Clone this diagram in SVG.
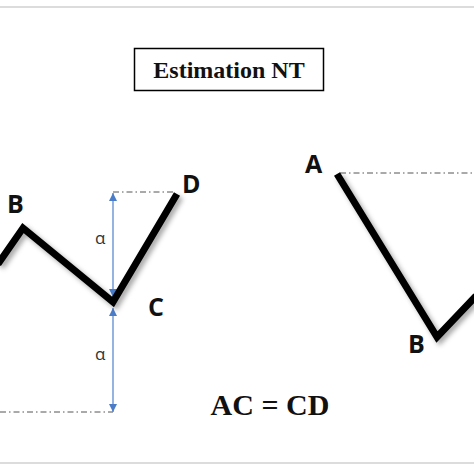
<svg xmlns="http://www.w3.org/2000/svg" width="474" height="474" viewBox="0 0 474 474">
<defs>
<style>
.frame{stroke:#dcdcdc;stroke-width:2;fill:none}
.zig{stroke:#000;stroke-width:7;fill:none;stroke-linejoin:miter;stroke-miterlimit:10;filter:url(#sh)}
.dim{stroke:#5b8bd0;stroke-width:1.3;fill:none}
.ref{stroke:#555;stroke-width:1;fill:none;stroke-dasharray:6 3 1.5 3}
.lbl{font-family:"Open Sans","Liberation Sans",sans-serif;font-weight:bold;font-size:25px;fill:#111}
.alpha{font-family:"Open Sans","Liberation Sans",sans-serif;font-size:17px;fill:#333}
.serif{font-family:"Liberation Serif","Times New Roman",serif;font-weight:bold;fill:#111}
</style>
<filter id="sh" x="-20%" y="-20%" width="140%" height="140%">
<feDropShadow dx="3" dy="3" stdDeviation="2.5" flood-color="#000" flood-opacity="0.35"/>
</filter>
<marker id="ah" viewBox="0 0 10 10" refX="10" refY="5" markerWidth="8" markerHeight="9" markerUnits="userSpaceOnUse" orient="auto-start-reverse">
<path d="M0,0 L10,5 L0,10 Z" fill="#4a7cc8"/>
</marker>
</defs>
<line class="frame" x1="0" y1="7" x2="474" y2="7"/>
<line class="frame" x1="0" y1="463" x2="474" y2="463"/>
<g id="title">
<rect x="134.5" y="48.5" width="189" height="42" fill="#fff" stroke="#000" stroke-width="1.5"/>
<text class="serif" x="229" y="78" font-size="24" text-anchor="middle">Estimation NT</text>
</g>
<g id="connectors">
<line class="ref" x1="113" y1="192" x2="174" y2="192"/>
<line class="ref" x1="0" y1="412" x2="113" y2="412"/>
<line class="ref" x1="340" y1="173" x2="474" y2="173"/>
<line class="dim" x1="113" y1="193" x2="113" y2="297" marker-start="url(#ah)" marker-end="url(#ah)"/>
<line class="dim" x1="113" y1="308" x2="113" y2="412" marker-start="url(#ah)" marker-end="url(#ah)"/>
</g>
<g id="left-zigzag">
<polyline class="zig" points="-2,264 23,228 113,302 177,194"/>
</g>
<g id="right-zigzag">
<polyline class="zig" points="337,174 437,337 476,296"/>
</g>
<g id="labels">
<text class="lbl" x="7" y="213">B</text>
<text class="lbl" x="182" y="193">D</text>
<text class="lbl" x="148" y="316">C</text>
<text class="lbl" x="305" y="173">A</text>
<text class="lbl" x="408" y="353">B</text>
<text class="alpha" x="95" y="244">α</text>
<text class="alpha" x="95" y="360">α</text>
</g>
<g id="equation">
<text class="serif" x="270" y="415" font-size="30" text-anchor="middle">AC = CD</text>
</g>
</svg>
